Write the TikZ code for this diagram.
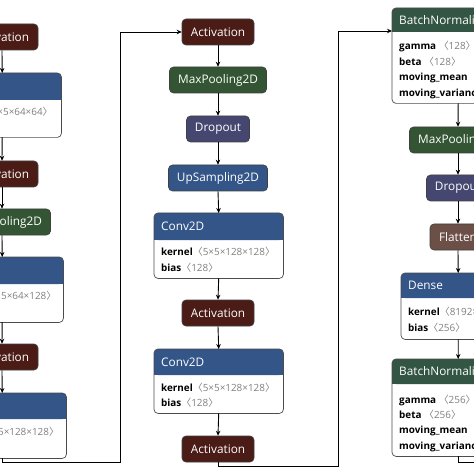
\documentclass[tikz,border=0pt]{standalone}
\usepackage{fontspec}
\setmainfont{Open Sans}
\newfontfamily\cjk{Noto Sans CJK SC}
\usetikzlibrary{calc,arrows.meta}
\definecolor{cAct}{RGB}{75,27,22}
\definecolor{cPool}{RGB}{51,85,51}
\definecolor{cDrop}{RGB}{69,71,112}
\definecolor{cLayer}{RGB}{51,85,136}
\definecolor{cNorm}{RGB}{51,85,68}
\definecolor{cShape}{RGB}{108,79,71}
\definecolor{cVal}{RGB}{128,128,128}
\tikzset{
  simple/.style={draw=black!75, line width=0.6bp, rounded corners=4bp, text=white, inner sep=0pt,
    minimum height=26bp, font=\fontsize{11.8bp}{14bp}\selectfont},
  bodybox/.style={fill=white, draw=none, inner sep=0pt, anchor=north west},
  frame/.style={draw=black!70, line width=0.7bp, rounded corners=4bp},
  hdr/.style={text=white, anchor=west, inner sep=0pt, font=\fontsize{11.8bp}{14bp}\selectfont},
  attr/.style={anchor=west, inner sep=0pt, font=\fontsize{9.9bp}{11bp}\selectfont},
  conn/.style={draw=black, line width=0.9bp, -{Stealth[length=5bp,width=4.5bp]}},
  wire/.style={draw=black, line width=0.9bp},
}
% name, x0, y0, width, height, header height, colour, title
\newcommand{\nnblock}[8]{%
  \node[bodybox, minimum width=#4bp, minimum height=#5bp] (#1) at (#2,#3) {};
  \fill[#7, rounded corners=4bp] (#1.north west) rectangle ($(#1.north east)+(0,-#6bp)$);
  \fill[#7] ($(#1.north west)+(0,-#6bp/2)$) rectangle ($(#1.north east)+(0,-#6bp)$);
  \draw[frame] (#1.north west) rectangle (#1.south east);
  \node[hdr] (#1-t) at ($(#1.north west)+(7bp,-#6bp/2)$) {#8};
}
% block name, suffix, y offset from top, name, value
\newcommand{\nnattr}[5]{%
  \node[attr] (#1-#2) at ($(#1.north west)+(7bp,-#3bp)$) {\textbf{#4}\textcolor{cVal}{{\cjk 〈}#5{\cjk 〉}}};
}
\begin{document}
\begin{tikzpicture}[x=1bp,y=-1bp]
\useasboundingbox (0,0) rectangle (474,474);
\fill[white] (0,0) rectangle (474,474);
\clip (0,0) rectangle (474,474);

% ---------- left column ----------
\node[simple, fill=cAct, minimum width=72bp] (aL1) at (2,37) {Activation};
\nnblock{cL1}{-57}{73}{118}{64}{27}{cLayer}{Conv2D}
\nnattr{cL1}{k}{39}{kernel}{5×5×64×64}
\nnattr{cL1}{b}{55}{bias}{64}
\node[simple, fill=cAct, minimum width=72bp] (aL2) at (2,174) {Activation};
\node[simple, fill=cPool, minimum width=97bp] (pL) at (2,222) {MaxPooling2D};
\nnblock{cL2}{-59}{257}{122}{65}{27}{cLayer}{Conv2D}
\nnattr{cL2}{k}{39}{kernel}{5×5×64×128}
\nnattr{cL2}{b}{55}{bias}{128}
\node[simple, fill=cAct, minimum width=72bp] (aL3) at (2,357) {Activation};
\nnblock{cL3}{-62}{393}{128}{65}{26}{cLayer}{Conv2D}
\nnattr{cL3}{k}{39}{kernel}{5×5×128×128}
\nnattr{cL3}{b}{55}{bias}{128}

% ---------- middle column ----------
\node[simple, fill=cAct, minimum width=72bp] (aM1) at (218,32) {Activation};
\node[simple, fill=cPool, minimum width=97bp] (pM) at (218,80) {MaxPooling2D};
\node[simple, fill=cDrop, minimum width=63bp] (dM) at (218,129) {Dropout};
\node[simple, fill=cLayer, minimum width=99bp] (uM) at (218,178) {UpSampling2D};
\nnblock{cM1}{154}{213}{129}{65}{27}{cLayer}{Conv2D}
\nnattr{cM1}{k}{39}{kernel}{5×5×128×128}
\nnattr{cM1}{b}{55}{bias}{128}
\node[simple, fill=cAct, minimum width=72bp] (aM2) at (218,313) {Activation};
\nnblock{cM2}{154}{349}{129}{64}{26}{cLayer}{Conv2D}
\nnattr{cM2}{k}{39}{kernel}{5×5×128×128}
\nnattr{cM2}{b}{54}{bias}{128}
\node[simple, fill=cAct, minimum width=72bp] (aM3) at (218,449) {Activation};

% ---------- right column ----------
\nnblock{bn1}{392}{8}{132}{95}{24}{cNorm}{BatchNormalization}
\nnattr{bn1}{g}{39}{gamma }{128}
\nnattr{bn1}{b}{54}{beta }{128}
\nnattr{bn1}{m}{70}{moving\_mean }{128}
\nnattr{bn1}{v}{86}{moving\_variance }{128}
\node[simple, fill=cPool, minimum width=97bp] (pR) at (458,140) {MaxPooling2D};
\node[simple, fill=cDrop, minimum width=63bp] (dR) at (458,188) {Dropout};
\node[simple, fill=cShape, minimum width=56bp] (fR) at (458,237) {Flatten};
\nnblock{dn}{401}{273}{114}{66}{25}{cLayer}{Dense}
\nnattr{dn}{k}{39}{kernel}{8192×256}
\nnattr{dn}{b}{55}{bias}{256}
\nnblock{bn2}{392}{359}{132}{97}{25}{cNorm}{BatchNormalization}
\nnattr{bn2}{g}{41}{gamma }{256}
\nnattr{bn2}{b}{56}{beta }{256}
\nnattr{bn2}{m}{71}{moving\_mean }{256}
\nnattr{bn2}{v}{87}{moving\_variance }{256}

% ---------- connectors ----------
\draw[conn] (aL1.south) -- (cL1.north);
\draw[conn] (cL1.south) -- (aL2.north);
\draw[conn] (aL2.south) -- (pL.north);
\draw[conn] (pL.south) -- (cL2.north);
\draw[conn] (cL2.south) -- (aL3.north);
\draw[conn] (aL3.south) -- (cL3.north);
\coordinate (j1) at (120,462);
\draw[conn] (cL3.south) |- (j1) |- (aM1.west);

\draw[conn] (aM1.south) -- (pM.north);
\draw[conn] (pM.south) -- (dM.north);
\draw[conn] (dM.south) -- (uM.north);
\draw[conn] (uM.south) -- (cM1.north);
\draw[conn] (cM1.south) -- (aM2.north);
\draw[conn] (aM2.south) -- (cM2.north);
\draw[conn] (cM2.south) -- (aM3.north);
\coordinate (j2) at (338,466);
\coordinate (bn1in) at ($(bn1.north west)+(0,-23bp)$);
\draw[conn] (aM3.south) |- (j2) |- (bn1in);

\draw[conn] (bn1.south) -- (pR.north);
\draw[conn] (pR.south) -- (dR.north);
\draw[conn] (dR.south) -- (fR.north);
\draw[conn] (fR.south) -- (dn.north);
\draw[conn] (dn.south) -- (bn2.north);
\coordinate (out) at (480,462);
\draw[wire] (bn2.south) |- (out);
\end{tikzpicture}
\end{document}
